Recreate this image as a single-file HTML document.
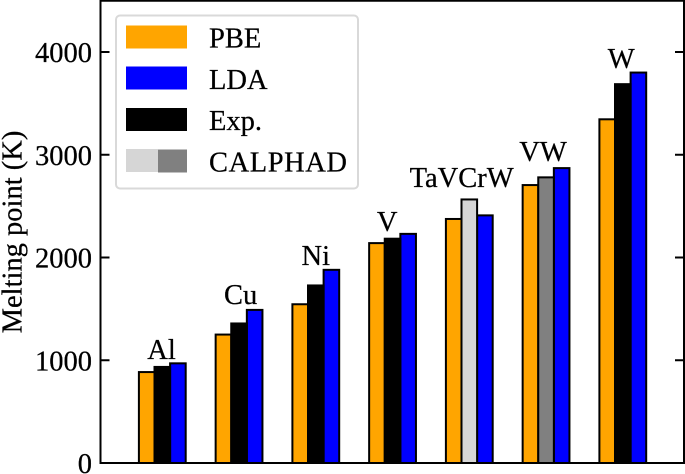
<!DOCTYPE html>
<html>
<head>
<meta charset="utf-8">
<style>
html,body{margin:0;padding:0;background:#fff;width:685px;height:474px;overflow:hidden}
svg{display:block}
text{font-family:"Liberation Serif",serif;fill:#000;stroke:#000;stroke-width:0.25px}
</style>
</head>
<body>
<svg id="chart" xmlns="http://www.w3.org/2000/svg" width="685" height="474" viewBox="0 0 685 474">
<g id="bars"></g>
<g id="labels"></g>
<g id="axes"></g>
<g>
<rect x="116" y="15.5" width="242" height="173" rx="4" fill="#fff" stroke="#d9d9d9" stroke-width="2"/>
<rect x="126" y="25.5" width="61" height="23" fill="#ffa500"/>
<rect x="126" y="66.5" width="61" height="23" fill="#0000ff"/>
<rect x="126" y="108" width="61" height="23" fill="#000"/>
<rect x="126" y="149" width="32" height="23" fill="#d6d6d6"/>
<rect x="158" y="149.5" width="29" height="23" fill="#808080"/>
<text x="209" y="47.5" font-size="28.5">PBE</text>
<text x="209" y="89" font-size="28.5">LDA</text>
<text x="209" y="130" font-size="28.5">Exp.</text>
<text x="209" y="171.5" font-size="28.5" textLength="138" lengthAdjust="spacing">CALPHAD</text>
</g>
</svg>
<script>
const materials = ['Al', 'Cu', 'Ni', 'V', 'TaVCrW', 'VW', 'W'];
const pbeValues = [885, 1250, 1545, 2140, 2375, 2705, 3345];
const middleValues = [935, 1358, 1728, 2183, 2565, 2780, 3687];
const ldaValues = [970, 1490, 1880, 2230, 2410, 2870, 3800];
const middleKinds = ['exp', 'exp', 'exp', 'exp', 'calphad-light', 'calphad-dark', 'exp'];
const labelHeights = [1012, 1547, 1927, 2258, 2686, 2939, 3844];
const labelGroupPositions = [-0.01, 1.02, 2, 2.93, 3.9, 4.96, 5.98];
const yTicks = [0, 1000, 2000, 3000, 4000];

const NS = 'http://www.w3.org/2000/svg';
const axisLeft = 100.5, axisRight = 684, axisTop = 0.8, axisBottom = 463;
const firstCenter = 162.3, groupStep = 76.75, barWidth = 15.6;
const kindColors = {'exp': '#000000', 'calphad-light': '#d6d6d6', 'calphad-dark': '#808080'};
function yScale(v) { return axisBottom - v * 0.10275; }
function xScale(i) { return firstCenter + i * groupStep; }
function make(tag, attrs, parent) {
  const el = document.createElementNS(NS, tag);
  for (const k in attrs) el.setAttribute(k, attrs[k]);
  parent.appendChild(el);
  return el;
}
const barsG = document.getElementById('bars');
const labelsG = document.getElementById('labels');
const axesG = document.getElementById('axes');

function drawBar(i, offset, value, color, name) {
  const top = yScale(value);
  const el = make('rect', {
    x: xScale(i) + offset * barWidth - barWidth / 2,
    y: top,
    width: barWidth,
    height: axisBottom - top,
    fill: color,
    stroke: '#000',
    'stroke-width': 2
  }, barsG);
  
  
}
materials.forEach(function (m, i) {
  const key = m.toLowerCase();
  drawBar(i, -1, pbeValues[i], '#ffa500', 'bar-pbe-' + key);
  drawBar(i, 1, ldaValues[i], '#0000ff', 'bar-lda-' + key);
  drawBar(i, 0, middleValues[i], kindColors[middleKinds[i]], 'bar-' + middleKinds[i] + '-' + key);
  const t = make('text', {
    x: xScale(labelGroupPositions[i]),
    y: yScale(labelHeights[i]),
    'font-size': 28.5,
    'text-anchor': 'middle'
  }, labelsG);
  t.textContent = m;
  
  
});
yTicks.forEach(function (v) {
  const y = yScale(v);
  const left = make('line', {x1: axisLeft, x2: axisLeft + 9, y1: y, y2: y, stroke: '#000', 'stroke-width': 2}, axesG);
  
  
  const right = make('line', {x1: axisRight, x2: axisRight - 9, y1: y, y2: y, stroke: '#000', 'stroke-width': 2}, axesG);
  
  
  const t = make('text', {x: 92, y: y + 10, 'font-size': 28.5, 'text-anchor': 'end'}, axesG);
  t.textContent = String(v);
  
  
});
const frame = make('path', {
  d: 'M' + axisLeft + ' ' + axisBottom + 'V' + axisTop + 'H' + axisRight + 'V' + axisBottom + 'Z',
  fill: 'none', stroke: '#000', 'stroke-width': 2
}, axesG);


const title = make('text', {
  transform: 'translate(21.5 232) rotate(-90)',
  'font-size': 28.5,
  'text-anchor': 'middle'
}, axesG);
title.textContent = 'Melting point (K)';


</script>
</body>
</html>
